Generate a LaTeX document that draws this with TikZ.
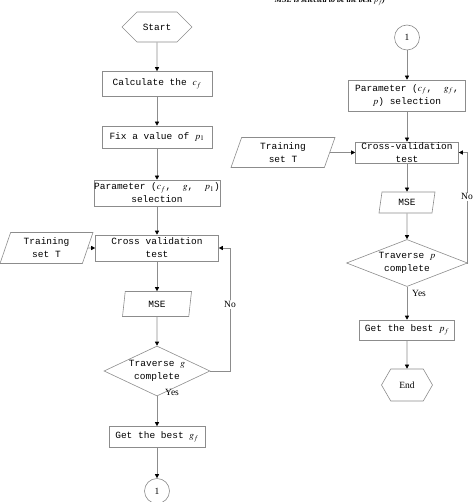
\documentclass[tikz,border=0pt]{standalone}
\usepackage{amsmath}
\usepackage{mathptmx}
\usepackage{fontspec}
\setmainfont{Liberation Serif}
\setmonofont{Liberation Mono}
\usepackage{tikz}
\definecolor{chartGray}{HTML}{8C8C8C}
\usetikzlibrary{shapes.geometric}
\usetikzlibrary{shapes.symbols}
\usetikzlibrary{arrows.meta}

\begin{document}
\begin{tikzpicture}[x=1pt, y=-1pt,
  every node/.style={font=\ttfamily\fontsize{9.5}{13}\selectfont, align=center, inner sep=0pt},
  procbox/.style={draw=chartGray, line width=0.6pt, rectangle},
  databox/.style={draw=chartGray, line width=0.6pt, trapezium, trapezium left angle=62, trapezium right angle=118, trapezium stretches body},
  decbox/.style={draw=chartGray, line width=0.6pt, diamond, aspect=2.2},
  termbox/.style={draw=chartGray, line width=0.6pt, signal, signal to=east and west},
  linkbox/.style={draw=chartGray, line width=0.6pt, circle, minimum size=25pt, font=\rmfamily\fontsize{9.5}{11}\selectfont},
  lbl/.style={font=\rmfamily\fontsize{9.5}{11}\selectfont, inner sep=1pt},
  flow/.style={draw=chartGray, line width=0.6pt, -{Triangle[black, length=4pt, width=4pt]}}
]
  \useasboundingbox (0,0) rectangle (474,502);

  % left column
  \node[termbox, minimum width=70pt, minimum height=30pt, signal pointer angle=90] (start) at (157,27) {Start};
  \node[procbox, minimum width=110pt, minimum height=25pt] (calc) at (157,84) {Calculate the $c_f$};
  \node[procbox, minimum width=110pt, minimum height=22pt] (fix) at (157,137) {Fix a value of $p_1$};
  \node[procbox, minimum width=123pt, minimum height=26pt] (paramL) at (157,193) {Parameter ($c_f$,~~$g$,~~$p_1$)\\selection};
  \node[procbox, minimum width=123pt, minimum height=26pt] (crossL) at (157,248) {Cross validation\\test};
  \node[databox, minimum width=93pt, minimum height=31pt] (trainL) at (46.5,248) {Training\\set T};
  \node[databox, trapezium left angle=67, trapezium right angle=113, minimum width=69pt, minimum height=25pt] (mseL) at (157,304) {MSE};
  \node[decbox, minimum width=106pt, minimum height=50pt] (diaL) at (157,371) {Traverse $g$\\complete};
  \node[procbox, minimum width=96pt, minimum height=21pt] (getG) at (157,437) {Get the best $g_f$};
  \node[linkbox] (linkL) at (157,491) {1};
  \node[lbl] (yesL) at (172,392) {Yes};
  \coordinate (backL) at (230,248);

  \draw[flow] (start) -- (calc);
  \draw[flow] (calc) -- (fix);
  \draw[flow] (fix) -- (paramL);
  \draw[flow] (paramL) -- (crossL);
  \draw[flow] (trainL) -- (crossL);
  \draw[flow] (crossL) -- (mseL);
  \draw[flow] (mseL) -- (diaL);
  \draw[flow] (diaL) -- (getG);
  \draw[flow] (getG) -- (linkL);
  \draw[flow] (diaL.east) -| (backL) node[lbl, fill=white, pos=0.77] {No} -- (crossL.east);

  % right column
  \node[font=\rmfamily\bfseries\itshape\fontsize{8}{10}\selectfont, anchor=base] (caption) at (330,3) {MSE is selected to be the best $\boldsymbol{p_f}$)};
  \node[linkbox] (linkR) at (407,37.5) {1};
  \node[procbox, minimum width=117pt, minimum height=31pt] (paramR) at (407,95.5) {Parameter ($c_f$,~~$g_f$,\\$p$) selection};
  \node[procbox, minimum width=103pt, minimum height=21pt] (crossR) at (407,152.5) {Cross-validation\\test};
  \node[databox, minimum width=104pt, minimum height=30pt] (trainR) at (283,152.5) {Training\\set T};
  \node[databox, trapezium left angle=65, trapezium right angle=115, minimum width=56pt, minimum height=21pt] (mseR) at (407,202.5) {MSE};
  \node[decbox, minimum width=121pt, minimum height=46pt] (diaR) at (407,263) {Traverse $p$\\complete};
  \node[procbox, minimum width=95pt, minimum height=20pt] (getP) at (407,330) {Get the best $p_f$};
  \node[termbox, minimum width=51pt, minimum height=32pt, signal pointer angle=120, font=\rmfamily\fontsize{9.5}{11}\selectfont] (finish) at (407,385) {End};
  \node[lbl] (yesR) at (419,293) {Yes};
  \coordinate (backR) at (467,152.5);

  \draw[flow] (linkR) -- (paramR);
  \draw[flow] (paramR) -- (crossR);
  \draw[flow] (trainR) -- (crossR);
  \draw[flow] (crossR) -- (mseR);
  \draw[flow] (mseR) -- (diaR);
  \draw[flow] (diaR) -- (getP);
  \draw[flow] (getP) -- (finish);
  \draw[flow] (diaR.east) -| (backR) node[lbl, fill=white, pos=0.8] {No} -- (crossR.east);
\end{tikzpicture}
\end{document}
